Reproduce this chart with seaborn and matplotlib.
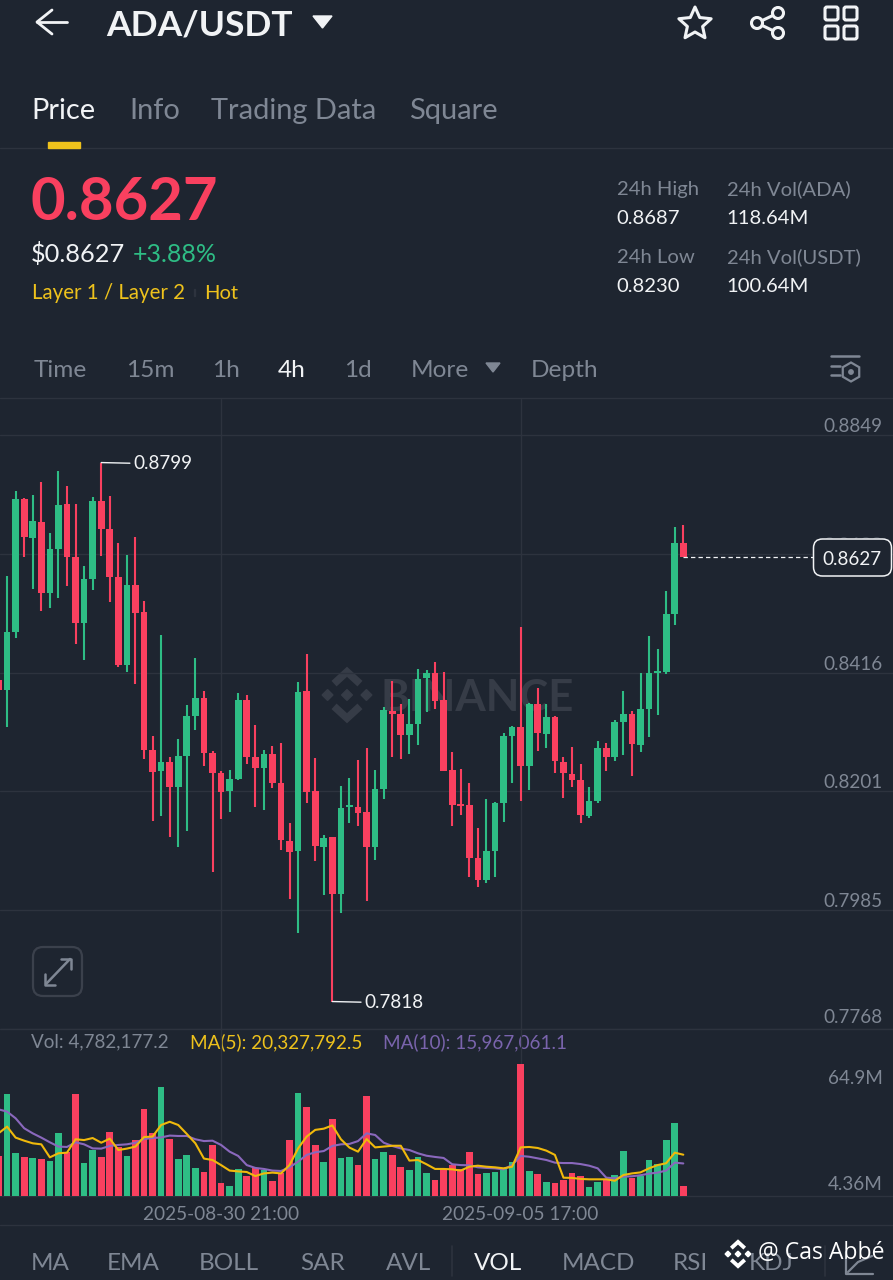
import numpy as np
import pandas as pd
import matplotlib
matplotlib.use('Agg')
import matplotlib.pyplot as plt
from matplotlib.patches import Circle, FancyBboxPatch, Polygon, Rectangle
import seaborn as sns

# 4h candles, left to right
opens = [.8403,.8385,.8491,.8733,.8662,.8691,.8562,.8642,.8724,.8627,.8507,.8587,.8729,.8678,.8591,.8431,.8576,.8527,.8276,.8238,
         .8254,.8209,.8265,.8338,.8371,.8271,.8234,.8201,.8223,.8367,.8263,.8243,.8269,.8216,.8110,.8092,.8383,.8201,.8099,.8118,
         .8014,.8172,.8172,.8163,.8099,.8205,.8347,.8342,.8303,.8323,.8407,.8416,.8367,.8240,.8178,.8176,.8079,.8040,.8092,.8180,
         .8301,.8318,.8247,.8360,.8305,.8336,.8254,.8233,.8221,.8156,.8183,.8280,.8263,.8327,.8342,.8285,.8351,.8416,.8418,.8523,.8653]
closes = [.8385,.8491,.8733,.8664,.8693,.8562,.8642,.8722,.8627,.8507,.8587,.8729,.8678,.8591,.8431,.8576,.8525,.8276,.8236,.8254,
          .8209,.8265,.8338,.8371,.8271,.8234,.8200,.8223,.8367,.8263,.8243,.8269,.8216,.8112,.8090,.8382,.8200,.8101,.8116,.8014,
          .8170,.8176,.8161,.8099,.8205,.8349,.8342,.8303,.8323,.8405,.8416,.8365,.8238,.8176,.8174,.8079,.8040,.8092,.8180,.8301,
          .8318,.8247,.8360,.8307,.8336,.8256,.8234,.8221,.8158,.8183,.8280,.8263,.8327,.8342,.8287,.8351,.8416,.8420,.8523,.8653,.8627]
highs = [.8403,.8593,.8747,.8735,.8740,.8763,.8671,.8784,.8756,.8724,.8611,.8736,.8799,.8738,.8653,.8631,.8664,.8547,.8302,.8485,
         .8263,.8296,.8358,.8443,.8383,.8274,.8238,.8240,.8380,.8376,.8322,.8276,.8283,.8289,.8143,.8400,.8451,.8261,.8121,.8118,
         .8210,.8225,.8258,.8280,.8240,.8354,.8401,.8360,.8369,.8424,.8422,.8436,.8418,.8272,.8242,.8216,.8134,.8187,.8182,.8307,
         .8320,.8500,.8362,.8389,.8360,.8338,.8263,.8281,.8251,.8209,.8292,.8289,.8331,.8383,.8347,.8416,.8483,.8460,.8565,.8682,.8686]
lows = [.8385,.8318,.8480,.8627,.8569,.8529,.8534,.8553,.8574,.8469,.8440,.8567,.8629,.8545,.8427,.8418,.8396,.8260,.8147,.8156,
        .8118,.8099,.8128,.8312,.8247,.8054,.8151,.8163,.8221,.8250,.8172,.8167,.8207,.8094,.8005,.7943,.8180,.8074,.8012,.7818,
        .7980,.8143,.8138,.8001,.8076,.8187,.8263,.8260,.8269,.8285,.8345,.8351,.8238,.8138,.8158,.8045,.8027,.8033,.8045,.8145,
        .8216,.8183,.8203,.8274,.8280,.8234,.8189,.8209,.8143,.8152,.8180,.8238,.8256,.8267,.8229,.8272,.8300,.8340,.8414,.8503,.8627]

# volume panel, in millions
volumes = [19.7,50.0,21.3,19.3,18.8,18.2,17.4,31.1,21.8,50.0,16.4,22.6,19.3,31.3,24.3,19.7,27.5,42.9,31.1,53.4,
           28.0,18.4,20.0,13.8,11.8,24.9,6.6,5.1,13.3,10.0,13.8,12.8,7.2,11.5,27.5,50.6,43.9,24.9,16.6,37.9,
           18.5,19.0,15.2,49.2,18.4,21.5,20.2,14.4,12.8,19.0,11.5,8.0,12.8,15.2,13.1,21.5,10.8,11.5,12.0,13.6,
           16.9,64.9,12.5,10.7,7.0,6.2,7.9,11.5,10.0,4.4,6.9,7.9,10.2,22.1,9.0,9.8,17.9,15.7,27.5,35.7,4.78]
ma5 = [30.8,34.1,28.7,27.2,25.9,25.4,19.0,21.0,21.3,27.9,27.5,28.5,26.2,28.2,22.6,23.3,24.3,29.0,29.2,34.9,
       36.5,34.9,30.5,25.9,18.4,17.7,15.2,12.5,12.1,11.8,9.8,11.1,11.5,11.1,15.2,23.4,29.2,32.5,33.1,34.7,
       27.9,23.8,21.8,28.0,23.9,24.3,24.7,24.7,17.4,17.7,15.6,13.3,13.3,13.1,12.5,14.4,14.9,14.4,14.1,13.6,
       14.4,23.9,24.1,23.6,22.3,20.2,9.0,8.9,8.4,8.2,8.2,8.2,7.5,10.3,11.1,11.6,13.6,15.2,16.1,21.3,20.3]
ma10 = [42.6,41.5,38.2,33.3,30.8,28.7,26.4,24.3,24.1,26.4,25.4,23.4,23.3,24.6,25.1,25.4,26.2,28.0,28.5,28.8,
        29.7,29.5,29.5,27.9,27.0,27.2,25.1,21.8,19.7,15.2,13.8,13.3,12.5,12.3,14.1,16.9,20.2,21.5,22.1,24.6,
        25.4,25.6,27.0,30.8,30.0,26.2,24.6,23.4,22.6,21.0,19.8,19.2,18.7,15.6,15.2,15.1,14.1,13.8,13.6,13.1,
        15.2,19.7,19.3,18.5,17.7,16.4,16.2,16.2,15.7,14.9,13.6,9.0,8.7,9.5,9.7,10.2,11.0,11.5,12.5,16.4,16.0]

price_ticks = [0.8849, 0.8632, 0.8416, 0.8201, 0.7985, 0.7768]
date_idx = [26, 61]
date_labels = ['2025-08-30 21:00', '2025-09-05 17:00']
last_price = 0.8627

BG = '#1e2530'
LINE = '#2d333e'
GREEN = '#2ebd85'
RED = '#f9405f'
GRAY = '#7f8794'
WHITE = '#f1f3f5'
YELLOW = '#eec21c'
PURPLE = '#8a68bd'
MA_YEL = '#f0b90b'

sns.set_theme(style='dark')
plt.rcParams['font.family'] = ['Lato', 'DejaVu Sans']

W, H = 893, 1280
fig = plt.figure(figsize=(W / 100, H / 100), dpi=100, facecolor=BG)


def panel(top, bottom):
    return [0, (H - bottom) / H, 1, (bottom - top) / H]


def overlay(z):
    a = fig.add_axes([0, 0, 1, 1], zorder=z)
    a.set_xlim(0, W)
    a.set_ylim(H, 0)
    a.axis('off')
    a.patch.set_alpha(0)
    return a


# background layer in image pixels, used for the app chrome
ui = overlay(0)
top = overlay(5)


def txt(x, y, s, size, color=GRAY, weight='normal', ha='left', **kw):
    # y is the middle of the capitals, half a point size above the baseline in pixels
    ui.text(x, y + 0.5 * size, s, fontsize=size, color=color, fontweight=weight, ha=ha, va='baseline', **kw)


def seg(xs, ys, color=WHITE, lw=2.0):
    ui.plot(xs, ys, color=color, lw=lw, solid_capstyle='round', solid_joinstyle='round')


# header
seg([37, 67], [22, 22], WHITE, 2.0)
seg([52, 37, 52], [10, 22, 34], WHITE, 2.0)
txt(106, 23, 'ADA/USDT', 25.5, WHITE, 'bold')
ui.add_patch(Polygon([[313, 16], [332, 16], [322.5, 28]], closed=True, color=WHITE))

ang = np.arange(10) * np.pi / 5 - np.pi / 2
rad = np.where(np.arange(10) % 2 == 0, 17, 8)
ui.add_patch(Polygon(np.c_[695 + rad * np.cos(ang), 24 + rad * np.sin(ang)], closed=True, fill=False,
                     ec=WHITE, lw=2.2, joinstyle='round'))
seg([757, 778], [23, 13], WHITE, 2.2)
seg([757, 778], [23, 33], WHITE, 2.2)
for cx, cy in [(757, 23), (778, 13), (778, 33)]:
    ui.add_patch(Circle((cx, cy), 5.5, fc=BG, ec=WHITE, lw=2.2, zorder=3))
for gx, gy in [(825, 7), (844, 7), (825, 26), (844, 26)]:
    ui.add_patch(FancyBboxPatch((gx, gy), 13, 13, boxstyle='round,pad=0,rounding_size=2', fill=False, ec=WHITE, lw=2.2))

# tabs
for x, s, c in [(31, 'Price', WHITE), (129, 'Info', GRAY), (211, 'Trading Data', GRAY), (409, 'Square', GRAY)]:
    txt(x, 109, s, 20.9, c)
ui.add_patch(Rectangle((48, 142), 32, 6, color=YELLOW, zorder=3))
ui.axhline(148, color=LINE, lw=1)

# price block
txt(30, 198, '0.8627', 43, RED, 'bold')
txt(31, 253, '$0.8627', 18.3, WHITE)
txt(133, 253, '+3.88%', 18.0, GREEN)
txt(32, 292, 'Layer 1 / Layer 2', 14.8, YELLOW)
ui.add_patch(Rectangle((194, 289), 1, 7, color=LINE))
txt(204, 292, 'Hot', 14.5, YELLOW)
for x, y, s, c in [(617, 188, '24h High', GRAY), (727, 188, '24h Vol(ADA)', GRAY),
                   (616, 217, '0.8687', WHITE), (726, 217, '118.64M', WHITE),
                   (617, 256, '24h Low', GRAY), (727, 256, '24h Vol(USDT)', GRAY),
                   (616, 285, '0.8230', WHITE), (726, 285, '100.64M', WHITE)]:
    txt(x, y, s, 14.6, c)

# interval row
for x, s, c in [(34, 'Time', GRAY), (126, '15m', GRAY), (212, '1h', GRAY), (278, '4h', WHITE),
                (344, '1d', GRAY), (411, 'More', GRAY), (531, 'Depth', GRAY)]:
    txt(x, 368, s, 17.6, c)
ui.add_patch(Polygon([[486, 363], [500, 363], [493, 372]], closed=True, color=GRAY))
seg([831, 859], [356, 356], GRAY, 1.8)
seg([831, 840], [366, 366], GRAY, 1.8)
seg([831, 840], [375, 375], GRAY, 1.8)
hex_ang = np.arange(6) * np.pi / 3 - np.pi / 2
ui.add_patch(Polygon(np.c_[851 + 9.5 * np.cos(hex_ang), 372 + 9.5 * np.sin(hex_ang)], closed=True, fill=False, ec=GRAY, lw=1.6))
ui.add_patch(Circle((851, 372), 2.2, color=GRAY))
ui.axhline(398, color=LINE, lw=1)


def logo(cx, cy, r, color):
    # four small diamonds and the chevrons of the exchange mark
    s = r * 0.2
    for dx, dy in [(-r * 0.72, 0), (r * 0.72, 0), (0, 0)]:
        ui.add_patch(Polygon([[cx + dx - s, cy + dy], [cx + dx, cy + dy - s], [cx + dx + s, cy + dy], [cx + dx, cy + dy + s]],
                             closed=True, color=color))
    for sign in (-1, 1):
        ui.plot([cx - r * 0.48, cx, cx + r * 0.48], [cy + sign * r * 0.42, cy + sign * r * 0.86, cy + sign * r * 0.42],
                color=color, lw=r * 0.2, solid_joinstyle='miter', solid_capstyle='butt')


# watermark, sits under the candles
logo(347, 695, 27, '#363c47')
txt(380, 695, 'BINANCE', 31.5, '#363c47', 'bold')

# expand button
ui.add_patch(FancyBboxPatch((33, 947), 49, 49, boxstyle='round,pad=0,rounding_size=10', fill=False, ec='#3b414c', lw=1.6))
seg([46, 70], [984, 959], GRAY, 1.8)
seg([61, 71, 71], [959, 959, 969], GRAY, 1.8)
seg([45, 45, 55], [974, 985, 985], GRAY, 1.8)

# candle panel
x_min, x_max = 1.5 / 8.56, (W + 1.5) / 8.56
ax = fig.add_axes(panel(399, 1029), zorder=2)
ax.patch.set_alpha(0)
idx = np.arange(len(opens))
o, c, hi, lo = map(np.array, (opens, closes, highs, lows))
colors = np.where(c >= o, GREEN, RED)
ax.vlines(idx, lo, hi, colors=colors, lw=1.5, zorder=3)
ax.bar(idx, np.abs(c - o), bottom=np.minimum(o, c), width=0.78, color=colors, edgecolor='none', linewidth=0, zorder=3)
ax.set_xlim(x_min, x_max)
ax.set_ylim(0.7768, 0.89147)
ax.set_xticks(date_idx)
ax.set_xticklabels([])
ax.set_yticks(price_ticks)
# the lowest label has no room above the panel edge, it is placed by hand below
ax.set_yticklabels([f'{p:.4f}' for p in price_ticks[:-1]] + [''], color=GRAY, fontsize=13.6, ha='right', va='bottom')
ax.yaxis.tick_right()
ax.tick_params(axis='y', length=0, pad=-7.5)
ax.tick_params(axis='x', length=0)
ax.grid(True, color=LINE, lw=1)
ax.set_axisbelow(True)
sns.despine(ax=ax, left=True, bottom=True, right=True, top=True)
ax.get_yticklabels()[1].set_alpha(0.35)
txt(883, 1016, f'{price_ticks[-1]:.4f}', 13.6, GRAY, ha='right')

top_i = int(np.argmax(hi))
low_i = int(np.argmin(lo))
for i, y_val in [(top_i, hi[top_i]), (low_i, lo[low_i])]:
    ax.annotate(f'{y_val:.4f}', xy=(i, y_val), xytext=(23, -1), textcoords='offset points', color=WHITE, fontsize=13.6,
                va='center', arrowprops=dict(arrowstyle='-', color=WHITE, lw=1, shrinkA=0, shrinkB=0), zorder=5)

ax.plot([idx[-1], (813 + 1.5) / 8.56], [last_price, last_price], color=WHITE, lw=0.9, ls=(0, (3.5, 2.5)), zorder=4)
top.add_patch(FancyBboxPatch((813.5, 539), 78, 37, boxstyle='round,pad=0,rounding_size=9', fc=BG, ec=WHITE, lw=1.1))
top.text(852, 559.5, f'{last_price:.4f}', color=WHITE, fontsize=13.6, ha='center', va='center')
ui.axhline(1029, color=LINE, lw=1)

# volume panel
vol_df = pd.DataFrame({'idx': idx, 'volume': volumes, 'side': np.where(c >= o, 'up', 'down')})
ax_v = fig.add_axes(panel(1029, 1196), zorder=2)
ax_v.patch.set_alpha(0)
sns.barplot(data=vol_df, x='idx', y='volume', hue='side', palette={'up': GREEN, 'down': RED}, native_scale=True,
            dodge=False, width=0.78, saturation=1, errorbar=None, legend=False, ax=ax_v, zorder=3,
            edgecolor='none', linewidth=0)
sns.lineplot(x=idx, y=ma10, color=PURPLE, lw=1.5, ax=ax_v, zorder=4)
sns.lineplot(x=idx, y=ma5, color=MA_YEL, lw=1.5, ax=ax_v, zorder=5)
ax_v.set_xlim(x_min, x_max)
ax_v.set_ylim(0, 82.1)
ax_v.set_xlabel('')
ax_v.set_ylabel('')
ax_v.set_yticks([])
ax_v.set_xticks(date_idx)
ax_v.set_xticklabels(date_labels, color=GRAY, fontsize=13.7)
ax_v.tick_params(axis='x', length=0, pad=7)
ax_v.grid(True, axis='x', color=LINE, lw=1)
ax_v.set_axisbelow(True)
sns.despine(ax=ax_v, left=True, right=True, top=True, bottom=False)
ax_v.spines['bottom'].set_color(LINE)
ax_v.spines['bottom'].set_linewidth(1)

txt(31, 1041, 'Vol: 4,782,177.2', 13.6, GRAY)
txt(190, 1041, 'MA(5): 20,327,792.5', 13.6, YELLOW)
txt(383, 1041, 'MA(10): 15,967,061.1', 13.6, '#7a64ad')
txt(883, 1077, '64.9M', 13.6, GRAY, ha='right')
txt(883, 1183, '4.36M', 13.6, GRAY, ha='right')

# bottom indicator row
ui.axhline(1225, color=LINE, lw=1)
for x, s, col in [(31, 'MA', GRAY), (107, 'EMA', GRAY), (199, 'BOLL', GRAY), (300, 'SAR', GRAY), (386, 'AVL', GRAY),
                  (474, 'VOL', WHITE), (562, 'MACD', GRAY), (673, 'RSI', GRAY), (749, 'KDJ', GRAY)]:
    txt(x, 1261, s, 17.5, col)
seg([452, 452], [1246, 1276], LINE, 1.2)
seg([825, 825], [1246, 1276], LINE, 1.2)
seg([846, 846, 873], [1252, 1274, 1274], GRAY, 1.6)
seg([848, 858, 872], [1272, 1262, 1256], GRAY, 1.6)

# repost mark on top of the row
logo(738, 1254, 14, '#ffffff')
ui.text(758, 1253, '@ Cas Abbé', fontsize=16.6, color='#ffffff', ha='left', va='center',
        family=['Open Sans', 'DejaVu Sans'], zorder=8)

fig.savefig('out.png', dpi=100, facecolor=BG)
